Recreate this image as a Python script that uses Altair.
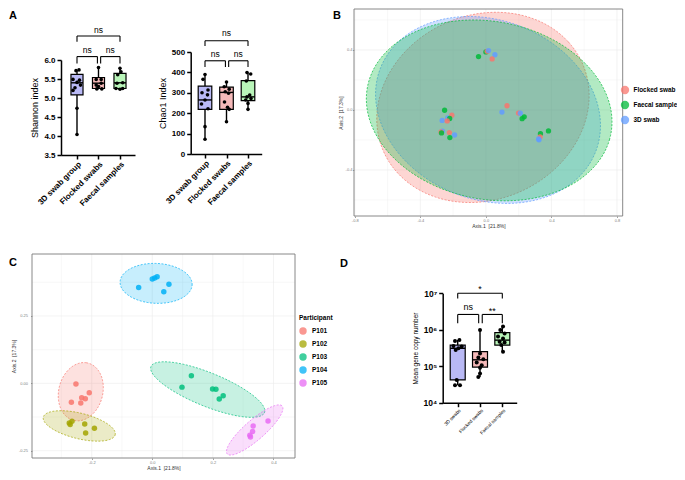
import json
import numpy as np
import pandas as pd
import altair as alt

W, H = 669, 464
FONT = "Liberation Sans"

# ---------------- Panel A / D (box plots) ----------------
A_CATS = ["3D swab group", "Flocked swabs", "Faecal samples"]
D_CATS = ["3D swabs", "Flocked swabs", "Faecal samples"]
BOX_FILLS = ["#B9B9F5", "#F5B9B9", "#B9F5B9"]

SHANNON_VALS = [
    [5.74, 5.72, 5.49, 5.47, 5.41, 5.34, 5.27, 5.20, 4.73, 4.04],
    [5.80, 5.49, 5.49, 5.39, 5.34, 5.24, 5.24, 5.30],
    [5.78, 5.69, 5.61, 5.40, 5.39, 5.25, 5.25, 5.23],
]
SHANNON_JIT = [
    [2, -1, -4, 2.5, 0, 3.5, -2, -4, 0, 0],
    [0, -2.3, 2.7, 2.7, -2.3, -1.7, 3.3, 0],
    [0, 1, -2.3, 2.7, -3, -4, 2.7, 0],
]
# min, q1, median, q3, max
SHANNON_STATS = [[4.04, 5.08, 5.40, 5.62, 5.74], [5.23, 5.25, 5.39, 5.54, 5.81], [5.23, 5.25, 5.40, 5.65, 5.78]]
SHANNON_BRACKETS = [(1.0, 3.0, 6.63, 6.48, "ns", 6.80), (1.0, 1.95, 6.09, 5.91, "ns", 6.27), (2.1, 3.0, 6.09, 5.91, "ns", 6.27)]

CHAO_VALS = [
    [390, 366, 314, 300, 290, 265, 245, 222, 134, 72],
    [353, 330, 318, 305, 298, 255, 229, 219, 158],
    [399, 392, 358, 289, 280, 272, 265, 248, 219],
]
CHAO_JIT = [
    [0, -2, 3, -3, 2.5, 0, -3.5, 3, 0, 0],
    [0, -2.3, 2.7, -1.3, 2, -2, 1, 2.7, 0],
    [-1, 2.7, -1.7, 1.7, -1, 3, -2.3, 0, 0],
]
CHAO_STATS = [[72, 219, 265, 333, 390], [158, 219, 302, 328, 353], [219, 262, 280, 360, 399]]
CHAO_BRACKETS = [(1.0, 3.0, 555, 529, "ns", 592), (1.0, 1.95, 457, 426, "ns", 490), (2.1, 3.0, 457, 426, "ns", 490)]

D_VALS = [
    [4.9e5, 5.2e5, 3.6e5, 3.5e5, 3.1e5, 2.8e5, 4.2e4, 3.0e4, 3.0e4],
    [9.8e5, 2.24e5, 1.74e5, 1.55e5, 1.26e5, 1.07e5, 9.1e4, 6.3e4, 5.1e4],
    [1.23e6, 9.8e5, 7.9e5, 6.5e5, 5.75e5, 4.7e5, 4.5e5, 3.8e5, 2.5e5],
]
D_JIT = [
    [-2.7, 1.7, -4.3, 4, 0.7, -2, -1, -2.7, 2.3],
    [0, 0, -1.7, 3.3, -3.3, 1.7, 0, 0, -1.7],
    [0.7, -2, 2.3, -4.3, 0.7, -2.7, 2.3, -1, 0.7],
]
D_STATS = [[3.0e4, 4.2e4, 3.1e5, 3.8e5, 5.2e5], [5.1e4, 9.5e4, 1.5e5, 2.5e5, 9.8e5], [2.5e5, 3.8e5, 5.2e5, 8.3e5, 1.23e6]]
D_BRACKETS = [(1.0, 3.0, 1e7, 10 ** 6.86, "*", 10 ** 7.13), (1.0, 1.94, 10 ** 6.42, 10 ** 6.18, "ns", 10 ** 6.63),
              (2.1, 3.0, 10 ** 6.42, 10 ** 6.18, "**", 10 ** 6.52)]

# ---------------- Panels B / C (PCoA) ----------------
AX1 = [-0.252, -0.208, -0.233, -0.221, -0.267, -0.236,
       -0.265, -0.274, -0.271, -0.223, -0.191, -0.220,
       0.129, 0.098, 0.199, 0.210, 0.234, 0.221,
       -0.045, 0.000, 0.008, 0.016, 0.055, 0.038,
       0.382, 0.333, 0.331, 0.322, 0.324]
AX2 = [-0.002, -0.035, -0.053, -0.057, -0.070, -0.073,
       -0.141, -0.147, -0.153, -0.151, -0.167, -0.184,
       0.028, -0.014, -0.021, -0.022, -0.046, -0.058,
       0.356, 0.387, 0.391, 0.396, 0.368, 0.340,
       -0.140, -0.158, -0.179, -0.193, -0.199]
PARTICIPANT = ["P101"] * 6 + ["P102"] * 6 + ["P103"] * 6 + ["P104"] * 6 + ["P105"] * 5
STYPE = ["Faecal sample", "Flocked swab", "3D swab", "Faecal sample", "3D swab", "Flocked swab",
         "3D swab", "Flocked swab", "Faecal sample", "Flocked swab", "3D swab", "Faecal sample",
         "Flocked swab", "3D swab", "Flocked swab", "3D swab", "Faecal sample", "Faecal sample",
         "Faecal sample", "Faecal sample", "Flocked swab", "3D swab", "3D swab", "Flocked swab",
         "Faecal sample", "Faecal sample", "Flocked swab", "3D swab", "3D swab"]

B_TYPES = ["Flocked swab", "Faecal sample", "3D swab"]
B_COLORS = ["#F8766D", "#00BA38", "#619CFF"]
# centre x, centre y, semi-major, semi-minor, angle (deg) -- in drawing order: Flocked, 3D, Faecal
B_ELLIPSES = [(-0.018, 0.017, 0.68, 0.60, 40), (0.013, 0.0, 0.716, 0.589, -30), (0.02, -0.003, 0.76, 0.59, -15)]
B_ELLIPSE_COLORS = ["#F8766D", "#619CFF", "#00BA38"]

C_PARTS = ["P101", "P102", "P103", "P104", "P105"]
C_COLORS = ["#F8766D", "#A3A500", "#00BF7D", "#00B0F6", "#E76BF3"]
C_ELLIPSES = [(-0.236, -0.031, 0.109, 0.073, 80), (-0.241, -0.158, 0.123, 0.047, -16),
              (0.183, -0.023, 0.206, 0.061, -25), (0.0126, 0.371, 0.119, 0.074, -3),
              (0.338, -0.173, 0.127, 0.035, 45)]

pts = pd.DataFrame({"ax1": AX1, "ax2": AX2, "participant": PARTICIPANT, "stype": STYPE})


def prism_panel(cats, vals, jit, stats, brackets, step, hw, xdom, xrng, ydom, yrng, ylog,
                yvals, ylabexpr, ytitle, ytitle_size, ylab_size, xlab_size, xlab_weight,
                text_size, pt_size, title_pad):
    xs = alt.Scale(domain=xdom, range=xrng, nice=False, zero=False)
    if ylog:
        ys = alt.Scale(type="log", domain=ydom, range=yrng, nice=False)
    else:
        ys = alt.Scale(domain=ydom, range=yrng, nice=False, zero=False)
    xax = alt.Axis(orient="bottom", offset=yrng[0] - H, values=[1, 2, 3],
                   labelExpr=json.dumps(cats) + "[datum.value - 1]", labelAngle=-45,
                   labelAlign="right", labelBaseline="top", labelFontSize=xlab_size,
                   labelFontWeight=xlab_weight, labelColor="black", labelPadding=1,
                   labelFlush=False, labelOverlap=False, labelBound=False,
                   domainColor="black", domainWidth=1.5, tickColor="black", tickWidth=1.5,
                   tickSize=4, title=None, grid=False)
    yax = alt.Axis(orient="left", offset=-xrng[0], values=yvals, labelExpr=ylabexpr,
                   labelFontSize=ylab_size, labelFontWeight="bold", labelColor="black",
                   labelPadding=2, labelFlush=False, labelOverlap=False,
                   domainColor="black", domainWidth=1.5, tickColor="black", tickWidth=1.5,
                   tickSize=4, title=ytitle, titleFontSize=ytitle_size,
                   titleFontWeight="normal", titleColor="black", titlePadding=title_pad,
                   grid=False)

    srows = []
    for i, s in enumerate(stats):
        srows.append(dict(x=i + 1, lo=i + 1 - hw, hi=i + 1 + hw, mn=s[0], q1=s[1],
                          med=s[2], q3=s[3], mx=s[4], fill=BOX_FILLS[i]))
    sdf = pd.DataFrame(srows)
    prow = []
    for i, (vs, js) in enumerate(zip(vals, jit)):
        for v, j in zip(vs, js):
            prow.append(dict(px=i + 1 + j / step, v=v))
    pdf = pd.DataFrame(prow)
    brow, trow = [], []
    for (a, b, top, leg, lab, ty) in brackets:
        brow.append(dict(x1=a, x2=b, y1=top, y2=top))
        brow.append(dict(x1=a, x2=a, y1=top, y2=leg))
        brow.append(dict(x1=b, x2=b, y1=top, y2=leg))
        trow.append(dict(tx=(a + b) / 2, ty=ty, t=lab))
    bdf = pd.DataFrame(brow)
    tdf = pd.DataFrame(trow)

    whisk = alt.Chart(sdf).mark_rule(color="black", strokeWidth=1.4).encode(
        x=alt.X("x:Q", scale=xs, axis=xax), y=alt.Y("mn:Q", scale=ys, axis=yax), y2="mx:Q")
    box = alt.Chart(sdf).mark_rect(stroke="black", strokeWidth=1.2).encode(
        x=alt.X("lo:Q", scale=xs, axis=xax), x2="hi:Q",
        y=alt.Y("q1:Q", scale=ys, axis=yax), y2="q3:Q",
        fill=alt.Fill("fill:N", scale=None))
    med = alt.Chart(sdf).mark_rule(color="black", strokeWidth=1.4).encode(
        x=alt.X("lo:Q", scale=xs, axis=xax), x2="hi:Q", y=alt.Y("med:Q", scale=ys, axis=yax))
    dots = alt.Chart(pdf).mark_circle(color="black", size=pt_size, opacity=1).encode(
        x=alt.X("px:Q", scale=xs, axis=xax), y=alt.Y("v:Q", scale=ys, axis=yax))
    brk = alt.Chart(bdf).mark_rule(color="black", strokeWidth=1.1).encode(
        x=alt.X("x1:Q", scale=xs, axis=xax), x2="x2:Q",
        y=alt.Y("y1:Q", scale=ys, axis=yax), y2="y2:Q")
    txt = alt.Chart(tdf).mark_text(fontSize=text_size, font=FONT, color="black",
                                   baseline="middle").encode(
        x=alt.X("tx:Q", scale=xs, axis=xax), y=alt.Y("ty:Q", scale=ys, axis=yax), text="t:N")
    return alt.layer(whisk, box, med, dots, brk, txt)


def ellipse_df(cx, cy, a, b, ang, n=120):
    t = np.linspace(0, 2 * np.pi, n + 1)
    th = np.deg2rad(ang)
    ex = cx + a * np.cos(t) * np.cos(th) - b * np.sin(t) * np.sin(th)
    ey = cy + a * np.cos(t) * np.sin(th) + b * np.sin(t) * np.cos(th)
    return pd.DataFrame({"ex": ex, "ey": ey, "i": np.arange(n + 1)})


def pcoa_panel(xdom, xrng, ydom, yrng, xmaj, xmin, ymaj, ymin, xfmt, yfmt, ellipses, ecolors,
               efill, colfield, cdomain, crange, legend, ylabpad, pt_size):
    xs = alt.Scale(domain=xdom, range=xrng, nice=False, zero=False)
    ys = alt.Scale(domain=ydom, range=yrng, nice=False, zero=False)
    common = dict(labelFontSize=4, labelColor="#7f7f7f", tickSize=1.5, tickColor="#444",
                  tickWidth=0.5, domain=False, titleFontSize=5, titleFontWeight="normal",
                  titleColor="#333", labelFlush=False, labelOverlap=False, grid=False)
    xax = alt.Axis(orient="bottom", offset=yrng[0] - H, values=xmaj,
                   labelExpr="replace(format(datum.value, '%s'), '\u2212', '-')" % xfmt,
                   title="Axis.1\u00a0 [21.8%]", labelPadding=0.5, titlePadding=1, **common)
    yax = alt.Axis(orient="left", offset=-xrng[0], values=ymaj,
                   labelExpr="replace(format(datum.value, '%s'), '\u2212', '-')" % yfmt,
                   title="Axis.2\u00a0 [17.3%]", labelPadding=ylabpad, titlePadding=2, **common)

    layers = []
    gx = pd.DataFrame({"g": xmin + xmaj, "w": [0.35] * len(xmin) + [0.6] * len(xmaj),
                       "lo": ydom[0], "hi": ydom[1]})
    gy = pd.DataFrame({"g": ymin + ymaj, "w": [0.35] * len(ymin) + [0.6] * len(ymaj),
                       "lo": xdom[0], "hi": xdom[1]})
    layers.append(alt.Chart(gx).mark_rule(color="#EBEBEB").encode(
        x=alt.X("g:Q", scale=xs, axis=xax), y=alt.Y("lo:Q", scale=ys, axis=yax), y2="hi:Q",
        strokeWidth=alt.StrokeWidth("w:Q", scale=None)))
    layers.append(alt.Chart(gy).mark_rule(color="#EBEBEB").encode(
        y=alt.Y("g:Q", scale=ys, axis=yax), x=alt.X("lo:Q", scale=xs, axis=xax), x2="hi:Q",
        strokeWidth=alt.StrokeWidth("w:Q", scale=None)))
    for (cx, cy, a, b, ang), col in zip(ellipses, ecolors):
        edf = ellipse_df(cx, cy, a, b, ang)
        layers.append(alt.Chart(edf).mark_line(
            fill=col, fillOpacity=efill, stroke=col, color=col, strokeWidth=0.7,
            strokeDash=[2, 1.5], interpolate="linear").encode(
            x=alt.X("ex:Q", scale=xs, axis=xax), y=alt.Y("ey:Q", scale=ys, axis=yax),
            order=alt.Order("i:Q")))
    layers.append(alt.Chart(pts).mark_circle(size=pt_size, opacity=0.85).encode(
        x=alt.X("ax1:Q", scale=xs, axis=xax), y=alt.Y("ax2:Q", scale=ys, axis=yax),
        color=alt.Color(colfield + ":N", scale=alt.Scale(domain=cdomain, range=crange),
                        legend=legend)))
    fdf = pd.DataFrame({"x0": [xdom[0]], "x1": [xdom[1]], "y0": [ydom[0]], "y1": [ydom[1]]})
    layers.append(alt.Chart(fdf).mark_rect(fill="transparent", stroke="#7a7a7a",
                                           strokeWidth=0.9).encode(
        x=alt.X("x0:Q", scale=xs, axis=xax), x2="x1:Q",
        y=alt.Y("y0:Q", scale=ys, axis=yax), y2="y1:Q"))
    return alt.layer(*layers)


shannon = prism_panel(A_CATS, SHANNON_VALS, SHANNON_JIT, SHANNON_STATS, SHANNON_BRACKETS,
                      21.5, 0.28, [0.256, 3.698], [53, 127], [3.5, 6.0], [147, 52], False,
                      [3.5, 4.0, 4.5, 5.0, 5.5, 6.0], "format(datum.value, '.1f')",
                      "Shannon index", 9, 8, 8, "bold", 8.5, 13, 4)
chao = prism_panel(A_CATS, CHAO_VALS, CHAO_JIT, CHAO_STATS, CHAO_BRACKETS,
                   21.5, 0.316, [0.335, 3.637], [182.7, 253.7], [0, 500], [146, 44], False,
                   [0, 100, 200, 300, 400, 500], "format(datum.value, 'd')",
                   "Chao1 Index", 9, 8, 8, "bold", 8.5, 13, 4)
panel_d = prism_panel(D_CATS, D_VALS, D_JIT, D_STATS, D_BRACKETS,
                      22.3, 0.336, [0.327, 3.645], [434.7, 508.7], [1e4, 1e7], [394.7, 285.3], True,
                      [1e4, 1e5, 1e6, 1e7],
                      "'10' + (datum.value < 5e4 ? '\u2074' : datum.value < 5e5 ? '\u2075' : datum.value < 5e6 ? '\u2076' : '\u2077')",
                      "Mean gene copy number", 6.5, 8.5, 4.8, "normal", 9, 16, 5)

legend_b = alt.Legend(orient="none", legendX=612.5, legendY=77.5, title=None, symbolType="circle",
                      symbolSize=70, symbolOpacity=0.75, symbolStrokeWidth=0, labelFontSize=6.4,
                      labelFontWeight="bold", labelColor="black", rowPadding=6, labelOffset=4)
panel_b = pcoa_panel([-0.805, 0.835], [346, 614.7], [-0.707, 0.673], [208, 1],
                     [-0.8, -0.4, 0.0, 0.4, 0.8], [-0.6, -0.2, 0.2, 0.6],
                     [-0.4, 0.0, 0.4], [-0.6, -0.2, 0.2, 0.6], ".1f", ".1f",
                     B_ELLIPSES, B_ELLIPSE_COLORS, 0.3, "stype", B_TYPES, B_COLORS, legend_b, 0.5, 28)

legend_c = alt.Legend(orient="none", legendX=291, legendY=306.5, title="Participant",
                      titleFontSize=6.5, titleFontWeight="bold", titleColor="black",
                      titlePadding=6, symbolType="circle", symbolSize=55, symbolOpacity=0.75,
                      symbolStrokeWidth=0, labelFontSize=6.5, labelFontWeight="bold",
                      labelColor="black", rowPadding=5, labelOffset=5)
panel_c = pcoa_panel([-0.397, 0.471], [24, 287], [-0.277, 0.48], [450, 246],
                     [-0.2, 0.0, 0.2, 0.4], [-0.3, -0.1, 0.1, 0.3],
                     [-0.25, 0.0, 0.25], [-0.125, 0.125, 0.375], ".1f", ".2f",
                     C_ELLIPSES, C_COLORS, 0.22, "participant", C_PARTS, C_COLORS, legend_c, 3, 30)

letters = []
for lab, lx, ly in [("A", 1, 10.5), ("B", 325, 10.5), ("C", 1, 258), ("D", 332, 259)]:
    letters.append(alt.Chart(pd.DataFrame({"t": [lab]})).mark_text(
        fontSize=11, fontWeight="bold", font=FONT, align="left", baseline="alphabetic",
        color="black").encode(x=alt.value(lx), y=alt.value(ly), text="t:N"))

chart = alt.layer(shannon, chao, panel_b, panel_c, panel_d, *letters).resolve_scale(
    x="independent", y="independent", color="independent"
).resolve_axis(x="independent", y="independent").resolve_legend(
    color="independent"
).properties(
    width=W, height=H, autosize=alt.AutoSizeParams(type="none"), padding=0, background="white"
).configure_view(stroke=None).configure_axis(
    labelFont=FONT, titleFont=FONT, grid=False
).configure_legend(labelFont=FONT, titleFont=FONT).configure_text(font=FONT)

chart.save("out.html", embed_options={"renderer": "svg", "actions": False})
